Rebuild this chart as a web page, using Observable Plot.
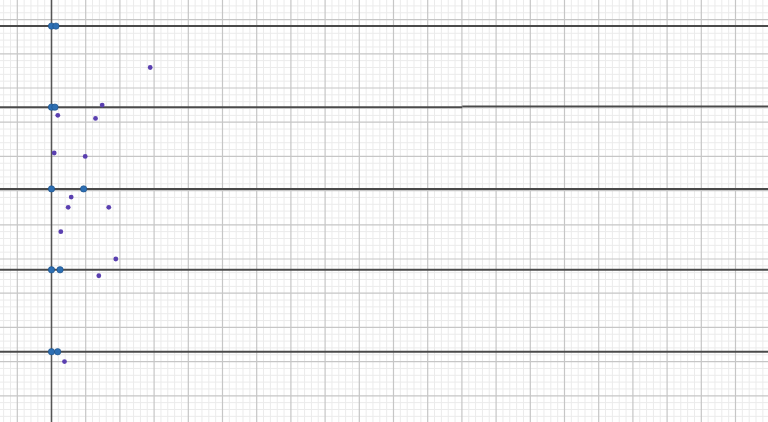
<!DOCTYPE html>
<html>
<head>
<meta charset="utf-8">
<script src="https://cdn.jsdelivr.net/npm/d3@7"></script>
<script src="https://cdn.jsdelivr.net/npm/@observablehq/plot@0.6"></script>
<style>
  html, body { margin: 0; padding: 0; background: #fff; overflow: hidden; }
  #chart svg { display: block; }
</style>
</head>
<body>
<div id="chart"></div>
<script>
// ---- data ----
// horizontal reference lines (y values)
const lineY = [10.81, 8.44, 6.05, 3.68, 1.29];
// segments of those lines (x1, x2, y) where the line steps slightly
const segX1 = [-1.6, -1.6, 12.01, -1.6, -1.6, -1.6];
const segX2 = [21.2, 12.01, 21.2, 21.2, 21.2, 21.2];
const segY  = [10.81, 8.44, 8.46, 6.05, 3.684, 1.289];

// points sitting on the lines (blue)
const blueX = [0, 0.13, 0, 0.1, 0, 0.94, 0, 0.25, 0, 0.18];
const blueY = [10.81, 10.81, 8.44, 8.44, 6.05, 6.05, 3.684, 3.684, 1.289, 1.289];

// scattered points (purple)
const purpleX = [2.886, 1.482, 0.184, 1.287, 0.079, 0.985, 0.576, 0.488, 1.675, 0.272, 1.880, 1.383, 0.380];
const purpleY = [9.60, 8.50, 8.20, 8.11, 7.10, 7.00, 5.81, 5.51, 5.51, 4.80, 4.00, 3.51, 1.00];

// grid ticks
const majorX = d3.range(-1, 21, 1);
const minorX = d3.range(-1.4, 21, 0.2).filter(v => Math.abs(v - Math.round(v)) > 1e-6);
const majorY = d3.range(0, 12, 1);
const minorY = d3.range(-0.6, 12, 0.2).filter(v => Math.abs(v - Math.round(v)) > 1e-6);

// ---- tables ----
const segs = segY.map((y, i) => ({x1: segX1[i], x2: segX2[i], y}));
const blue = blueX.map((x, i) => ({x, y: blueY[i]}));
const purple = purpleX.map((x, i) => ({x, y: purpleY[i]}));

const W = 768, H = 422;
const chart = Plot.plot({
  width: W,
  height: H,
  margin: 0,
  style: {background: "#fff", overflow: "hidden"},
  x: {domain: [-51 / 34.2, (W - 51) / 34.2], axis: null},
  y: {domain: [-(H - 395.3) / 34.2, 395.3 / 34.2], axis: null},
  marks: [
    Plot.ruleX(minorX, {stroke: "#ebebeb", strokeWidth: 1}),
    Plot.ruleY(minorY, {stroke: "#ebebeb", strokeWidth: 1}),
    Plot.ruleX(majorX, {stroke: "#c6c6c6", strokeWidth: 1.2}),
    Plot.ruleY(majorY, {stroke: "#c6c6c6", strokeWidth: 1.2}),
    // y axis
    Plot.ruleX([0], {stroke: "#555", strokeWidth: 1.5}),
    // horizontal dark lines
    Plot.link(segs, {x1: "x1", x2: "x2", y1: "y", y2: "y", stroke: "#4a4a4a", strokeWidth: 2}),
    // points
    Plot.dot(purple, {x: "x", y: "y", r: 2.4, fill: "#5a3fb0", stroke: "none"}),
    Plot.dot(blue, {x: "x", y: "y", r: 3.2, fill: "#2d6fb3", stroke: "#1d4f85", strokeWidth: 0.6})
  ]
});
document.getElementById("chart").append(chart);
</script>
</body>
</html>
